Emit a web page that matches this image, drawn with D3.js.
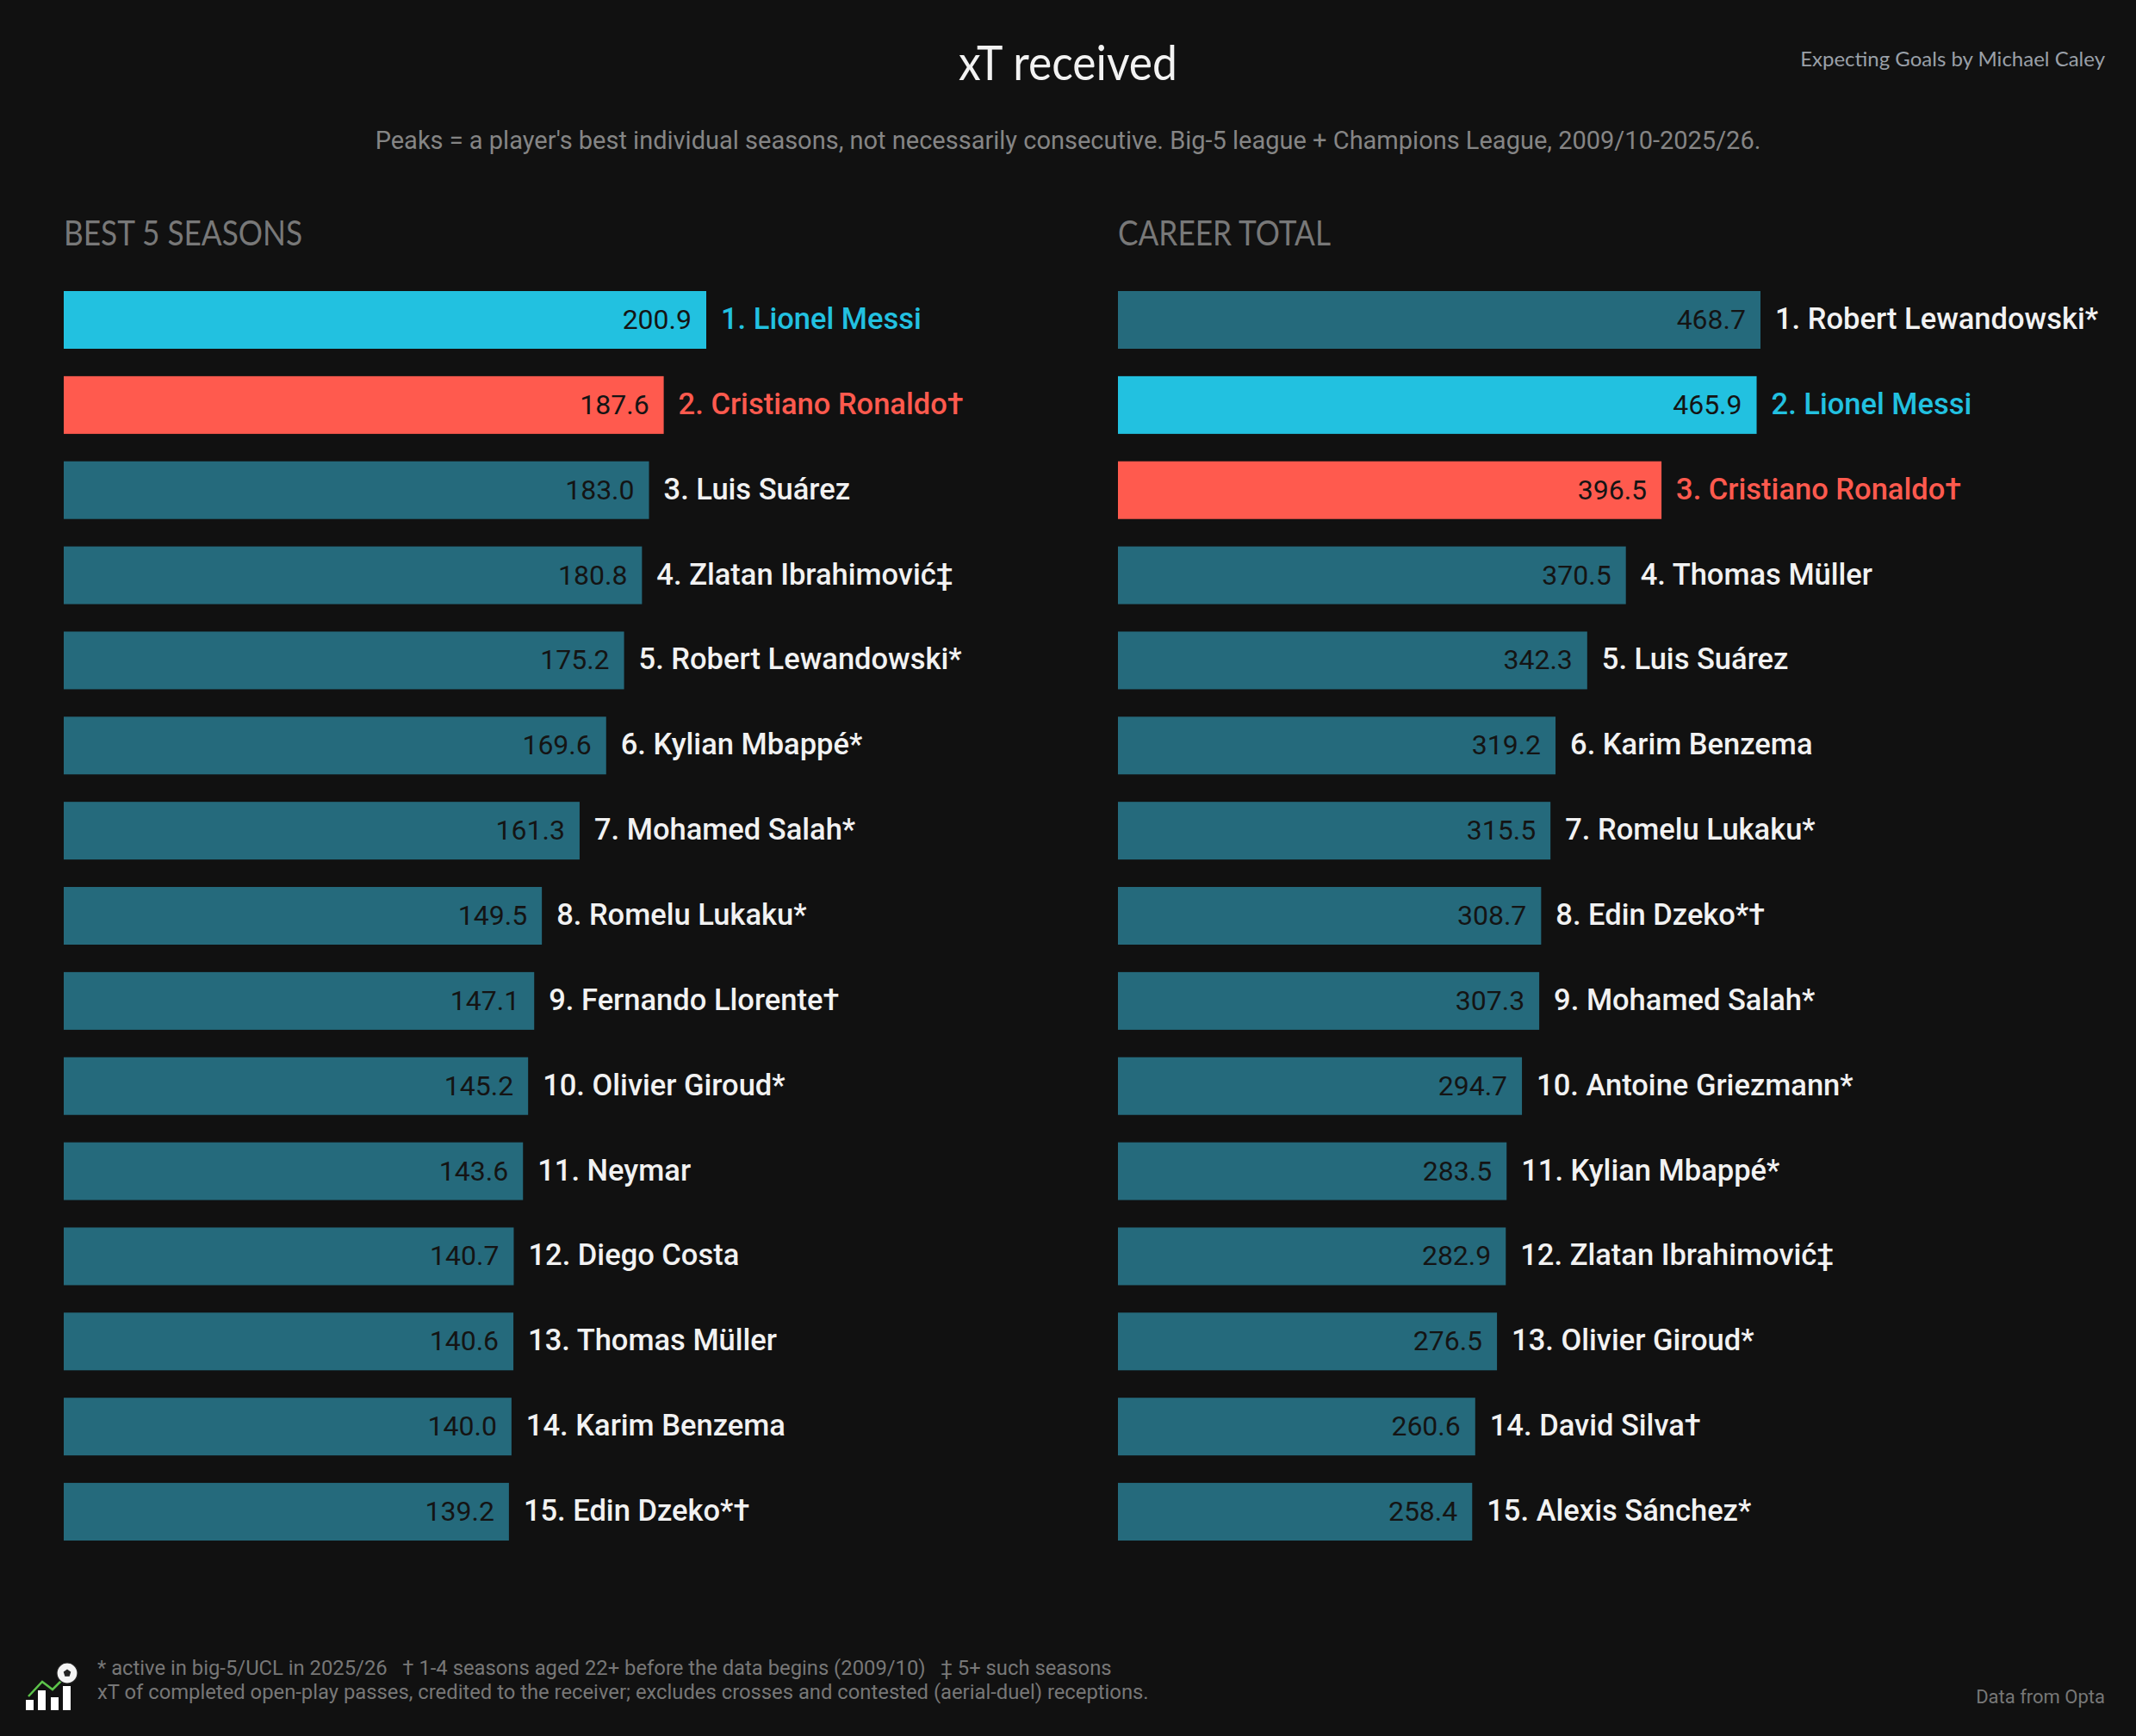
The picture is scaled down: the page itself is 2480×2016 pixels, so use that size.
<!DOCTYPE html>
<html>
<head>
<meta charset="utf-8">
<script src="https://d3js.org/d3.v7.min.js"></script>
<style>
  html, body { margin: 0; padding: 0; background: #111111; }
  svg { display: block; }
  .title { font-family: Lato, "Open Sans", sans-serif; fill: #f2f2f2; }
  .credit { font-family: Lato, "Open Sans", sans-serif; fill: #9aa0a8; }
  .subtitle { font-family: Roboto, sans-serif; fill: #858585; }
  .header { font-family: Lato, "Open Sans", sans-serif; fill: #787878; }
  .value { font-family: Roboto, sans-serif; font-size: 32px; fill: #141414; }
  .label { font-family: Roboto, sans-serif; font-size: 34.5px; font-weight: 500; fill: #f2f2f2; }
  .note { font-family: Roboto, sans-serif; font-size: 23.8px; fill: #777; }
  .source { font-family: Roboto, sans-serif; font-size: 22px; fill: #777; }
</style>
</head>
<body>
<svg width="2480" height="2016"></svg>
<script>
var leftNames = ["Lionel Messi", "Cristiano Ronaldo†", "Luis Suárez", "Zlatan Ibrahimović‡",
  "Robert Lewandowski*", "Kylian Mbappé*", "Mohamed Salah*", "Romelu Lukaku*",
  "Fernando Llorente†", "Olivier Giroud*", "Neymar", "Diego Costa",
  "Thomas Müller", "Karim Benzema", "Edin Dzeko*†"];
var leftValues = [200.9, 187.6, 183.0, 180.8, 175.2, 169.6, 161.3, 149.5,
  147.1, 145.2, 143.6, 140.7, 140.6, 140.0, 139.2];

var rightNames = ["Robert Lewandowski*", "Lionel Messi", "Cristiano Ronaldo†", "Thomas Müller",
  "Luis Suárez", "Karim Benzema", "Romelu Lukaku*", "Edin Dzeko*†",
  "Mohamed Salah*", "Antoine Griezmann*", "Kylian Mbappé*", "Zlatan Ibrahimović‡",
  "Olivier Giroud*", "David Silva†", "Alexis Sánchez*"];
var rightValues = [468.7, 465.9, 396.5, 370.5, 342.3, 319.2, 315.5, 308.7,
  307.3, 294.7, 283.5, 282.9, 276.5, 260.6, 258.4];

var panelTitles = ["BEST 5 SEASONS", "CAREER TOTAL"];
var footnotes = [
  "* active in big-5/UCL in 2025/26   † 1-4 seasons aged 22+ before the data begins (2009/10)   ‡ 5+ such seasons",
  "xT of completed open-play passes, credited to the receiver; excludes crosses and contested (aerial-duel) receptions."
];

var highlight = { "Lionel Messi": "#22c1e0", "Cristiano Ronaldo†": "#ff5a4e" };
var barColor = "#256a7c";

var svg = d3.select("svg");
svg.append("rect").attr("width", 2480).attr("height", 2016).attr("fill", "#111111");

// titles
svg.append("text").attr("class", "title")
  .attr("x", 1240).attr("y", 93).attr("text-anchor", "middle")
  .style("font-size", "56px")
  .attr("textLength", 254).attr("lengthAdjust", "spacingAndGlyphs")
  .text("xT received");

svg.append("text").attr("class", "credit")
  .attr("x", 2444).attr("y", 77).attr("text-anchor", "end")
  .style("font-size", "24px")
  .text("Expecting Goals by Michael Caley");

svg.append("text").attr("class", "subtitle")
  .attr("x", 1240).attr("y", 173).attr("text-anchor", "middle")
  .style("font-size", "29px")
  .text("Peaks = a player's best individual seasons, not necessarily consecutive. Big-5 league + Champions League, 2009/10-2025/26.");

// panels
var panels = [
  { x0: 74, names: leftNames, values: leftValues, title: panelTitles[0], tw: 277 },
  { x0: 1298, names: rightNames, values: rightValues, title: panelTitles[1], tw: 247 }
];

var y = d3.scaleBand()
  .domain(d3.range(15))
  .range([338, 338 + 14 * 98.86 + 67])
  .paddingInner(0.3223)
  .paddingOuter(0);

panels.forEach(function(p) {
  var x = d3.scaleLinear()
    .domain([0, d3.max(p.values)])
    .range([0, 746]);

  var g = svg.append("g").attr("transform", "translate(" + p.x0 + ",0)");

  g.append("text").attr("class", "header")
    .attr("x", 0).attr("y", 285)
    .style("font-size", "41px")
    .attr("textLength", p.tw).attr("lengthAdjust", "spacingAndGlyphs")
    .text(p.title);

  var rows = g.selectAll(".row")
    .data(p.values.map(function(v, i) { return { v: v, name: p.names[i], i: i }; }))
    .enter().append("g")
    .attr("class", "row")
    .attr("transform", function(d) { return "translate(0," + y(d.i) + ")"; });

  rows.append("rect")
    .attr("width", function(d) { return x(d.v); })
    .attr("height", y.bandwidth())
    .attr("fill", function(d) { return highlight[d.name] || barColor; });

  rows.append("text").attr("class", "value")
    .attr("x", function(d) { return x(d.v) - 17; })
    .attr("y", y.bandwidth() / 2 + 10.5)
    .attr("text-anchor", "end")
    .text(function(d) { return d.v.toFixed(1); });

  rows.append("text").attr("class", "label")
    .attr("x", function(d) { return x(d.v) + 17; })
    .attr("y", y.bandwidth() / 2 + 10.5)
    .style("fill", function(d) { return highlight[d.name] || null; })
    .text(function(d) { return (d.i + 1) + ". " + d.name; });
});

// footer notes
svg.selectAll(".note")
  .data(footnotes)
  .enter().append("text")
  .attr("class", "note")
  .attr("x", 113)
  .attr("y", function(d, i) { return 1945 + i * 28; })
  .style("white-space", "pre")
  .attr("xml:space", "preserve")
  .text(function(d) { return d; });

svg.append("text").attr("class", "source")
  .attr("x", 2444).attr("y", 1978).attr("text-anchor", "end")
  .text("Data from Opta");

// little logo: bars, trend line, ball
var logo = svg.append("g");
var logoBars = [[30, 1974], [44, 1963], [59, 1971], [73, 1958]];
logo.selectAll("rect").data(logoBars).enter().append("rect")
  .attr("x", function(d) { return d[0]; })
  .attr("y", function(d) { return d[1]; })
  .attr("width", 9)
  .attr("height", function(d) { return 1986 - d[1]; })
  .attr("fill", "#ffffff");
logo.append("polyline")
  .attr("points", "33,1970 49,1953 61,1962 72,1951")
  .attr("fill", "none").attr("stroke", "#5cc34a").attr("stroke-width", 2.5);
logo.append("circle").attr("cx", 78).attr("cy", 1943).attr("r", 12)
  .attr("fill", "#f4f4f4").attr("stroke", "#222").attr("stroke-width", 1.2);
logo.append("path")
  .attr("d", d3.range(5).map(function(k) {
    var a = -Math.PI / 2 + k * 2 * Math.PI / 5;
    return (k ? "L" : "M") + (78 + 4.5 * Math.cos(a)) + "," + (1943 + 4.5 * Math.sin(a));
  }).join("") + "Z")
  .attr("fill", "#222");
</script>
</body>
</html>
